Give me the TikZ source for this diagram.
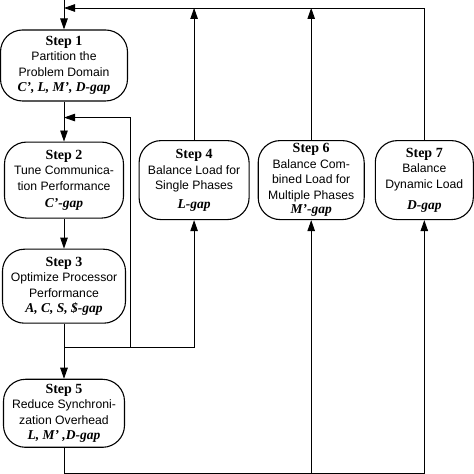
\documentclass[tikz,border=0pt]{standalone}
\usepackage{fontspec}
\setmainfont{Liberation Serif}
\setsansfont{Liberation Sans}
\usetikzlibrary{positioning, arrows.meta, calc}

\newcommand{\stephead}{\rmfamily\bfseries\fontsize{14}{15.5}\selectfont}
\newcommand{\gaptext}{\rmfamily\bfseries\itshape\fontsize{13.5}{15.5}\selectfont}

\begin{document}
\begin{tikzpicture}[x=1pt, y=1pt, line width=0.9pt,
    >={Triangle[length=11pt, width=7.5pt]},
    stepbox/.style={draw, line width=1.1pt, rounded corners=22pt, align=center, inner sep=1pt,
        font=\sffamily\fontsize{12.2}{15.5}\selectfont}]
    \useasboundingbox (0,0) rectangle (474,474);

    % main column
    \node[stepbox, minimum width=127pt, minimum height=71pt] (s1) at (64,408.5)
        {{\stephead Step 1}\\Partition the\\Problem Domain\\{\gaptext C’, L, M’, D-gap}};
    \node[stepbox, minimum width=119pt, minimum height=76pt, below=40pt of s1] (s2)
        {{\stephead Step 2}\\Tune Communica-\\tion Performance\\[2pt]{\gaptext C’-gap}};
    \node[stepbox, minimum width=123pt, minimum height=74pt, below=30pt of s2] (s3)
        {{\stephead Step 3}\\Optimize Processor\\Performance\\{\gaptext A, C, S, \$-gap}};
    \node[stepbox, minimum width=121pt, minimum height=68pt, below=55pt of s3] (s5)
        {{\stephead Step 5}\\Reduce Synchroni-\\zation Overhead\\{\gaptext L, M’ ,D-gap}};

    % row of load balancing steps
    \node[stepbox, minimum width=110pt, minimum height=79pt, right=14.5pt of s2] (s4)
        {{\stephead Step 4}\\Balance Load for\\Single Phases\\[3pt]{\gaptext L-gap}};
    \node[stepbox, minimum width=106pt, minimum height=79pt, right=8pt of s4] (s6)
        {{\stephead Step 6}\\Balance Com-\\bined Load for\\Multiple Phases\\[-1pt]{\gaptext M’-gap}};
    \node[stepbox, minimum width=98pt, minimum height=79pt, right=10pt of s6] (s7)
        {{\stephead Step 7}\\Balance\\Dynamic Load\\[6pt]{\gaptext D-gap}};

    \coordinate (start) at (64,474);
    \coordinate (fbtop) at (64,466);
    \coordinate (fbmid) at ($(s1.south)!0.4!(s2.north)$);
    \coordinate[below=24pt of s3] (join);
    \coordinate[right=66pt of join] (ret);
    \coordinate[below=26pt of s5] (base);

    \draw[->] (start) -- (s1);
    \draw[->] (s1) -- (s2);
    \draw[->] (s2) -- (s3);
    \draw (s3) -- (join);
    \draw[->] (join) -- (s5);
    \draw[->] (join) -| (s4.south);
    \draw[->] (ret) |- (fbmid);

    \draw[->] (s7.north) |- (fbtop);
    \draw[->] (s4.north) -- (s4.north |- fbtop);
    \draw[->] (s6.north) -- (s6.north |- fbtop);

    \draw[->] (s5.south) -- (base) -| (s7.south);
    \draw[->] (base -| s6.south) -- (s6.south);
\end{tikzpicture}
\end{document}
